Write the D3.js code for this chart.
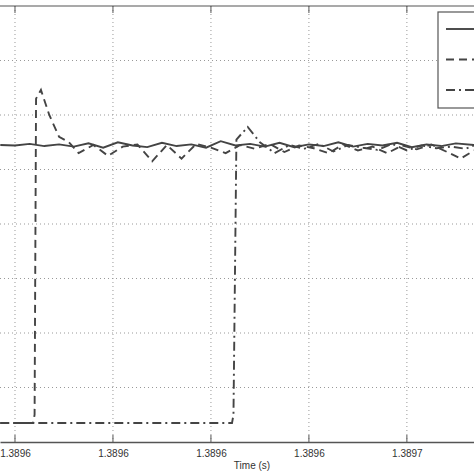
<!DOCTYPE html><html><head><script src="https://cdn.jsdelivr.net/npm/d3@7"></script>
<style>body{margin:0;background:#fff}</style></head><body><svg id="c" width="474" height="474"></svg>
<script>
const tickValues=[0,20,40,60,80];
const yTicks=[0,1,2,3,4,5,6,7,8];
const solidT=[-3,0,3,6,9,12,15,18,21,24,27,30,33,36,39,42,45,48,51,54,57,60,63,66,69,72,75,78,81,84,87,90,93.7];
const solidV=[5.45,5.44,5.47,5.43,5.46,5.42,5.48,5.40,5.50,5.44,5.41,5.49,5.43,5.46,5.40,5.52,5.44,5.47,5.42,5.49,5.41,5.46,5.43,5.50,5.42,5.47,5.44,5.49,5.41,5.46,5.43,5.48,5.45];
const dashT=[-3,3.7,4.0,4.3,5.3,7,9,11,13,16,19,22,25,28,31,34,37,40,43,46,49,52,55,58,61,64,67,70,73,76,79,82,85,88,91,93.7];
const dashV=[0.35,0.35,0.5,6.3,6.46,6.0,5.6,5.5,5.3,5.45,5.25,5.42,5.46,5.15,5.45,5.2,5.47,5.4,5.3,5.45,5.38,5.47,5.32,5.44,5.39,5.30,5.46,5.35,5.42,5.30,5.44,5.37,5.46,5.33,5.20,5.35];
const ddT=[-3,44.3,44.6,45.2,47.5,50,53,56,59,62,65,68,71,74,77,80,83,86,89,92,93.7];
const ddV=[0.35,0.35,0.5,5.55,5.78,5.5,5.3,5.45,5.38,5.47,5.33,5.45,5.4,5.36,5.47,5.35,5.44,5.39,5.42,5.38,5.44];
const svg=d3.select("#c");
const x=d3.scaleLinear().domain([-3.06,93.7]).range([0,474]);
const y=d3.scaleLinear().domain([0,8]).range([442,6]);
const g=svg.append("g");
g.selectAll(".vg").data(tickValues).join("line").attr("x1",d=>x(d)).attr("x2",d=>x(d)).attr("y1",6).attr("y2",442).attr("stroke","#999").attr("stroke-dasharray","1,3");
g.selectAll(".hg").data(yTicks.slice(1,-1)).join("line").attr("x1",0).attr("x2",474).attr("y1",d=>y(d)).attr("y2",d=>y(d)).attr("stroke","#999").attr("stroke-dasharray","1,3");
svg.append("line").attr("x1",0).attr("x2",474).attr("y1",6).attr("y2",6).attr("stroke","#555").attr("stroke-width",1.2);
const ax=svg.append("g").attr("transform","translate(0,442)").call(d3.axisBottom(x).tickValues(tickValues).tickSize(0).tickPadding(8).tickFormat(d=>(1.38958+d*1e-6).toFixed(4)));
ax.select(".domain").attr("stroke","#555").attr("stroke-width",1.5);
ax.selectAll("text").attr("font-family","Liberation Sans, Arial").attr("font-size",10).attr("fill","#333");
svg.selectAll(".tk").data(tickValues).join("line").attr("x1",d=>x(d)).attr("x2",d=>x(d)).attr("y1",435).attr("y2",442).attr("stroke","#555");
svg.selectAll(".tk2").data(tickValues).join("line").attr("x1",d=>x(d)).attr("x2",d=>x(d)).attr("y1",6).attr("y2",13).attr("stroke","#555");
svg.append("text").attr("x",252).attr("y",469).attr("text-anchor","middle").attr("font-family","Liberation Sans, Arial").attr("font-size",10).attr("fill","#333").text("Time (s)");
const line=d3.line().x(d=>x(d[0])).y(d=>y(d[1]));
const series=[[solidT,solidV,null],[dashT,dashV,"8,5"],[ddT,ddV,"9,4,2,4"]];
series.forEach(s=>svg.append("path").attr("d",line(d3.zip(s[0],s[1]))).attr("fill","none").attr("stroke","#444").attr("stroke-width",1.9).attr("stroke-dasharray",s[2]));
svg.append("rect").attr("x",438).attr("y",12).attr("width",50).attr("height",96).attr("fill","#fff").attr("stroke","#555").attr("stroke-width",1.2);
series.forEach((s,i)=>svg.append("line").attr("x1",446).attr("x2",474).attr("y1",29+i*30.5).attr("y2",29+i*30.5).attr("stroke","#444").attr("stroke-width",1.9).attr("stroke-dasharray",s[2]));
</script></body></html>
